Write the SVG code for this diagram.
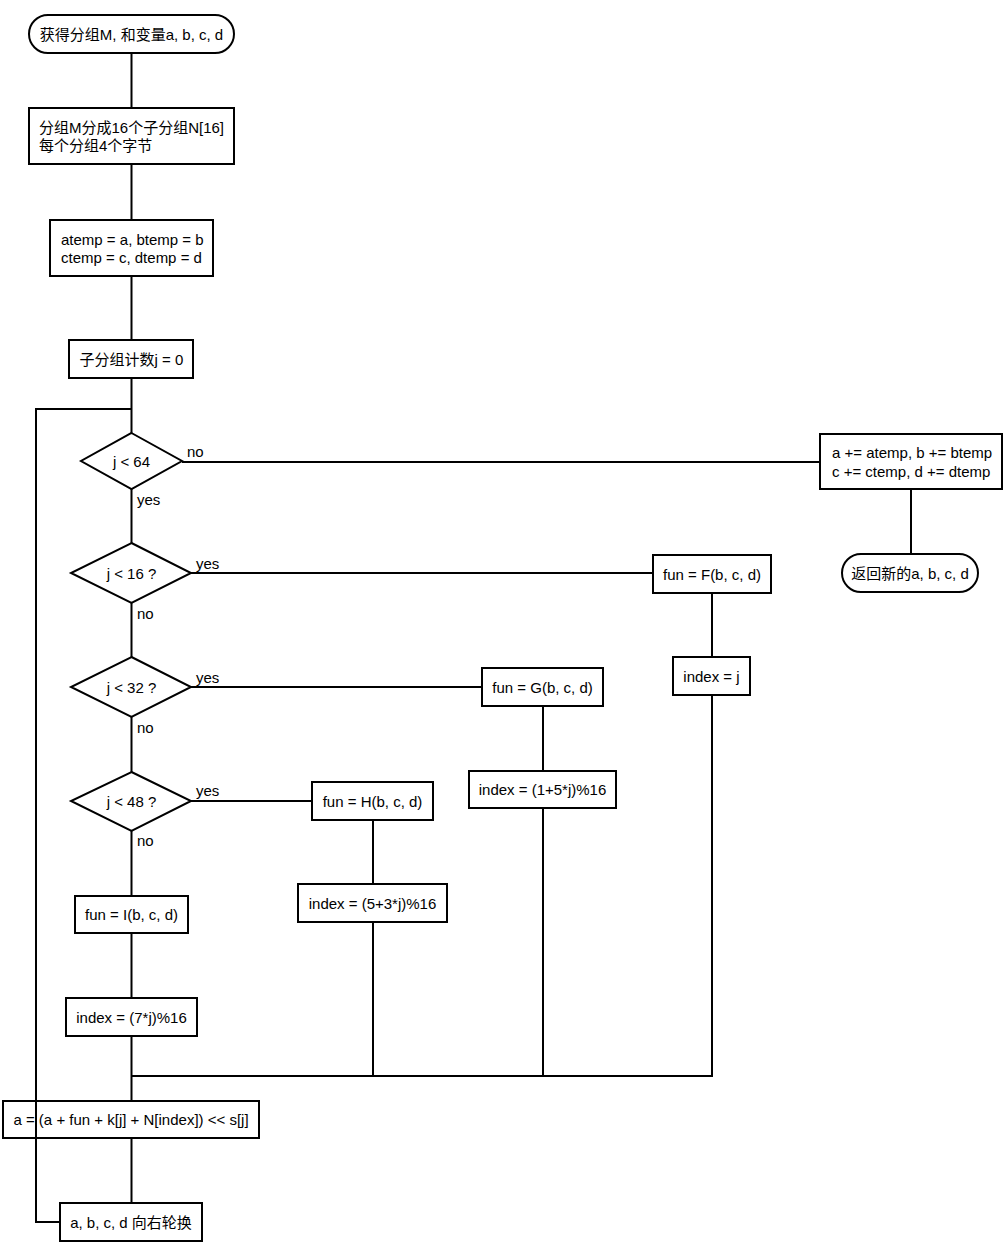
<svg xmlns="http://www.w3.org/2000/svg" width="1004" height="1243" viewBox="0 0 1004 1243">
<style>
.n{fill:#fff;stroke:#000;stroke-width:2}
.e{fill:none;stroke:#000;stroke-width:2}
text{font-family:"Liberation Sans","Noto Sans CJK SC",Arial,sans-serif;font-size:15px;fill:#000}
.c{text-anchor:middle}
</style>
<rect width="1004" height="1243" fill="#fff"/>
<g id="start"><rect class="n" x="29" y="15" width="205" height="38" rx="19"/><text class="c" x="131.5" y="39.5">获得分组M, 和变量a, b, c, d</text></g>
<g id="split"><rect class="n" x="29" y="108" width="205" height="56"/><text x="39" y="133">分组M分成16个子分组N[16]</text><text x="39" y="151">每个分组4个字节</text></g>
<g id="temp"><rect class="n" x="50" y="220" width="163" height="56"/><text x="61" y="245">atemp = a, btemp = b</text><text x="61" y="263">ctemp = c, dtemp = d</text></g>
<g id="init"><rect class="n" x="69" y="340" width="124" height="38"/><text class="c" x="131.5" y="364.5">子分组计数j = 0</text></g>
<g id="d64"><polygon class="n" points="131.5,433 182,461 131.5,489 81,461"/><text class="c" x="131.5" y="466.5">j &lt; 64</text></g>
<g id="d16"><polygon class="n" points="131.5,543 191,573 131.5,603 71,573"/><text class="c" x="131.5" y="578.5">j &lt; 16 ?</text></g>
<g id="d32"><polygon class="n" points="131.5,657 191,687 131.5,717 71,687"/><text class="c" x="131.5" y="692.5">j &lt; 32 ?</text></g>
<g id="d48"><polygon class="n" points="131.5,772 191,801 131.5,831 71,801"/><text class="c" x="131.5" y="806.5">j &lt; 48 ?</text></g>
<g id="funI"><rect class="n" x="75" y="896" width="113" height="37"/><text class="c" x="131.5" y="920">fun = I(b, c, d)</text></g>
<g id="idx7"><rect class="n" x="66" y="998" width="131" height="38"/><text class="c" x="131.5" y="1022.5">index = (7*j)%16</text></g>
<g id="update"><rect class="n" x="3" y="1101" width="256" height="37"/><text class="c" x="131" y="1125">a = (a + fun + k[j] + N[index]) &lt;&lt; s[j]</text></g>
<g id="rotate"><rect class="n" x="60" y="1203" width="142" height="38"/><text class="c" x="131" y="1227.5">a, b, c, d 向右轮换</text></g>
<g id="funH"><rect class="n" x="312" y="782" width="121" height="38"/><text class="c" x="372.5" y="806.5">fun = H(b, c, d)</text></g>
<g id="idx53"><rect class="n" x="298" y="884" width="149" height="38"/><text class="c" x="372.5" y="908.5">index = (5+3*j)%16</text></g>
<g id="funG"><rect class="n" x="482" y="668" width="121" height="38"/><text class="c" x="542.5" y="692.5">fun = G(b, c, d)</text></g>
<g id="idx15"><rect class="n" x="469" y="771" width="147" height="37"/><text class="c" x="542.5" y="795">index = (1+5*j)%16</text></g>
<g id="funF"><rect class="n" x="653" y="555" width="118" height="38"/><text class="c" x="712" y="579.5">fun = F(b, c, d)</text></g>
<g id="idxj"><rect class="n" x="673" y="657" width="77" height="38"/><text class="c" x="711.5" y="681.5">index = j</text></g>
<g id="add"><rect class="n" x="820" y="434" width="182" height="55"/><text x="832" y="458">a += atemp, b += btemp</text><text x="832" y="477">c += ctemp, d += dtemp</text></g>
<g id="end"><rect class="n" x="842" y="554" width="136" height="38" rx="19"/><text class="c" x="910" y="578.5">返回新的a, b, c, d</text></g>
<g id="connectors">
<path class="e" d="M131.5 53V108M131.5 164V220M131.5 276V340M131.5 378V433M131.5 489V543M131.5 603V657M131.5 717V772M131.5 831V896M131.5 933V998M131.5 1036V1101M131.5 1138V1203"/>
<path class="e" d="M131.5 409H36V1222H60"/>
<path class="e" d="M182 462H820M911 489V554"/>
<path class="e" d="M191 573H653M712 593V657M712 695V1076H131.5"/>
<path class="e" d="M191 687H482M543 706V771M543 808V1076"/>
<path class="e" d="M191 801H312M373 820V884M373 922V1076"/>
</g>
<g id="edge-labels">
<text x="187" y="457">no</text>
<text x="137" y="505">yes</text>
<text x="196" y="569">yes</text>
<text x="137" y="619">no</text>
<text x="196" y="683">yes</text>
<text x="137" y="733">no</text>
<text x="196" y="796">yes</text>
<text x="137" y="846">no</text>
</g>
</svg>
